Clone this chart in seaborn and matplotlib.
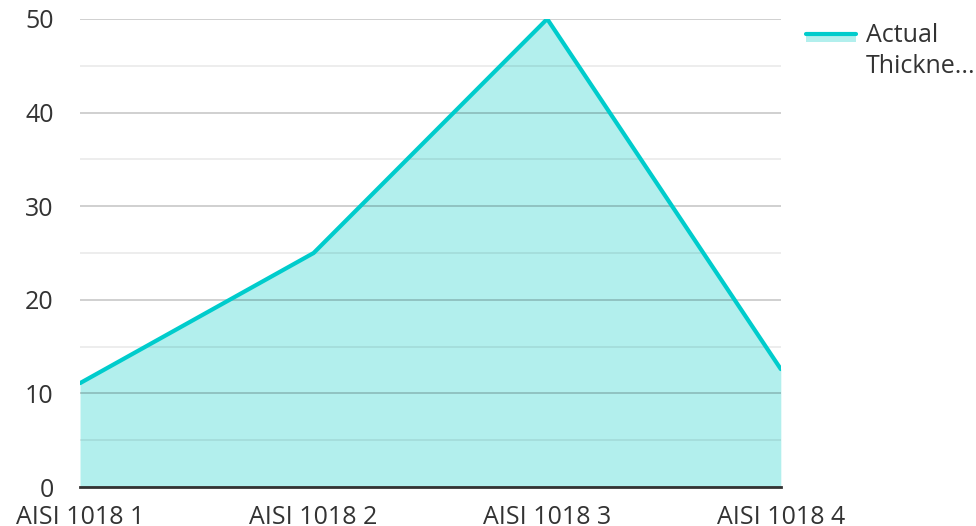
import numpy as np
import pandas as pd
import matplotlib
matplotlib.use('Agg')
import matplotlib.pyplot as plt
import seaborn as sns
from matplotlib.patches import Rectangle
from matplotlib.lines import Line2D
from matplotlib.legend_handler import HandlerBase

categories = ['AISI 1018 1', 'AISI 1018 2', 'AISI 1018 3', 'AISI 1018 4']
thickness = [11.1, 25.0, 50.0, 12.6]
series_name = 'Actual\nThickne...'

line_color = '#00cccc'
fill_color = '#b2efed'
text_color = '#333333'

sns.set_style('white')
plt.rcParams['font.family'] = ['Open Sans', 'DejaVu Sans']

df = pd.DataFrame({'x': categories, 'y': thickness})

fig = plt.figure(figsize=(9.76, 5.26), dpi=100)
ax = fig.add_axes([0.082, 0.074, 0.718, 0.89])

pos = np.arange(len(categories))
ax.fill_between(pos, 0, df['y'], color=fill_color, linewidth=0, zorder=1)
sns.lineplot(x=pos, y=df['y'], ax=ax, color=line_color, linewidth=3, zorder=3)

ax.set_xlim(0, len(categories) - 1)
ax.set_ylim(0, 50)
ax.set_yticks([0, 10, 20, 30, 40, 50])
ax.set_yticks([5, 15, 25, 35, 45], minor=True)
ax.set_xticks(pos)
ax.set_xticklabels(categories)

ax.grid(True, which='major', axis='y', color='black', alpha=0.2, linewidth=1.3, zorder=2)
ax.grid(True, which='minor', axis='y', color='black', alpha=0.08, linewidth=1.3, zorder=2)
ax.set_axisbelow(False)
for s in ['top', 'right', 'left']:
    ax.spines[s].set_visible(False)
ax.spines['bottom'].set_color(text_color)
ax.spines['bottom'].set_linewidth(2)
ax.spines['bottom'].set_zorder(4)

ax.tick_params(axis='both', which='both', length=0, labelsize=18, colors=text_color)
ax.tick_params(axis='y', pad=19)
ax.tick_params(axis='x', pad=13)
ax.set_xlabel('')
ax.set_ylabel('')


class AreaHandler(HandlerBase):
    def create_artists(self, legend, orig_handle, xdescent, ydescent, width, height, fontsize, trans):
        rect = Rectangle((-xdescent, -ydescent + height * 0.74), width, height * 0.19,
                         facecolor=fill_color, edgecolor='none', transform=trans)
        line = Line2D([-xdescent, -xdescent + width], [-ydescent + height * 0.93] * 2,
                      color=line_color, linewidth=3, transform=trans)
        return [rect, line]


handle = Rectangle((0, 0), 1, 1)
leg = fig.legend([handle], [series_name], handler_map={Rectangle: AreaHandler()},
                 loc='upper left', bbox_to_anchor=(0.826, 0.957), frameon=False,
                 borderpad=0, borderaxespad=0,
                 fontsize=18, handlelength=2.0, handleheight=2.3, handletextpad=0.4,
                 labelcolor=text_color)
for t in leg.get_texts():
    t.set_linespacing(1.35)

fig.savefig('out.png', dpi=100)
